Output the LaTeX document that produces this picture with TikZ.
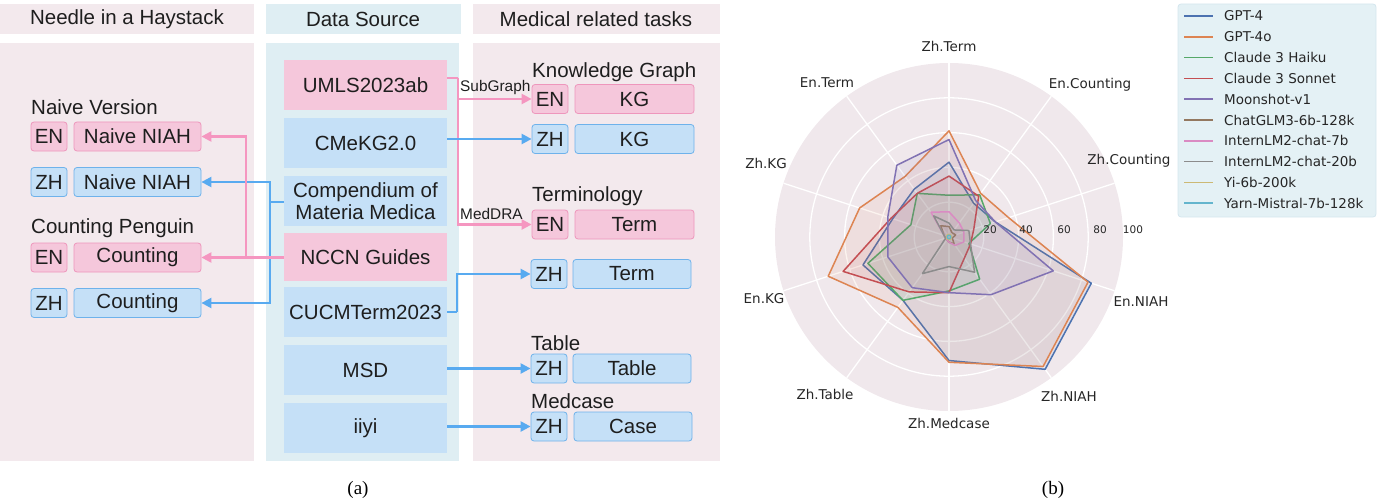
\documentclass[tikz,border=0pt]{standalone}
\usepackage{fontspec}
\setmainfont{Liberation Sans}
\newfontfamily\dvs{DejaVu Sans}
\newfontfamily\tnr{Liberation Serif}
\usetikzlibrary{arrows.meta}
\definecolor{panpink}{RGB}{243,233,237}
\definecolor{panblue}{RGB}{223,238,243}
\definecolor{boxpink}{RGB}{245,199,219}
\definecolor{boxblue}{RGB}{197,224,247}
\definecolor{brdpink}{RGB}{238,150,188}
\definecolor{brdblue}{RGB}{110,178,235}
\definecolor{arrpink}{RGB}{245,150,192}
\definecolor{arrblue}{RGB}{88,170,240}
\definecolor{txt}{RGB}{30,30,30}
\definecolor{radbg}{RGB}{240,232,236}
\definecolor{legfill}{RGB}{228,241,245}
\definecolor{legbrd}{RGB}{212,230,238}
\definecolor{sdblue}{HTML}{4C72B0}
\definecolor{sdorange}{HTML}{DD8452}
\definecolor{sdgreen}{HTML}{55A868}
\definecolor{sdred}{HTML}{C44E52}
\definecolor{sdpurple}{HTML}{8172B3}
\definecolor{sdbrown}{HTML}{937860}
\definecolor{sdpink}{HTML}{DA8BC3}
\definecolor{sdgray}{HTML}{8C8C8C}
\definecolor{sdolive}{HTML}{CCB974}
\definecolor{sdcyan}{HTML}{64B5CD}
\newcommand\radarpoly[3]{%
  \draw[line width=1.5pt, draw=#1, fill=#1, fill opacity=0.09, line join=round]
    (90:{#2*1.74}) \foreach \v [count=\i] in {#3} { -- ({90-36*\i}:{\v*1.74}) } -- cycle;}
\begin{document}
\begin{tikzpicture}[x=1pt,y=-1pt,
  big/.style={font=\fontsize{20.5}{24}\selectfont, text=txt, inner sep=0pt},
  hdr/.style={big},
  src/.style={big, minimum width=163pt, minimum height=50pt, align=center},
  srcp/.style={src, fill=boxpink},
  srcb/.style={src, fill=boxblue},
  tagp/.style={big, rounded corners=3pt, draw=brdpink, fill=boxpink, line width=0.8pt, minimum height=29pt},
  tagb/.style={big, rounded corners=3pt, draw=brdblue, fill=boxblue, line width=0.8pt, minimum height=29pt},
  lbl/.style={big, anchor=west},
  smalltxt/.style={font=\fontsize{15.4}{18}\selectfont, text=txt, inner sep=0pt},
  pline/.style={draw=arrpink, line width=2.3pt},
  bline/.style={draw=arrblue, line width=2.3pt},
  parr/.style={pline, -{Triangle[length=10pt,width=10pt]}},
  barr/.style={bline, -{Triangle[length=10pt,width=10pt]}},
  axl/.style={font=\dvs\fontsize{13.5}{16}\selectfont, text=black!85, inner sep=0pt},
  ticklbl/.style={font=\dvs\fontsize{10.5}{12}\selectfont, text=black!85, inner sep=0pt},
  legtxt/.style={font=\dvs\fontsize{13.5}{16}\selectfont, text=black!85, inner sep=0pt, anchor=west},
  captxt/.style={font=\tnr\fontsize{19}{22}\selectfont, text=black, inner sep=0pt}
]
\useasboundingbox (0,0) rectangle (1380,500);
% ---------- panels ----------
\fill[panpink] (0,4) rectangle (254,34);
\fill[panblue] (266,4) rectangle (461,34);
\fill[panpink] (473,4) rectangle (720,34);
\fill[panpink] (0,43) rectangle (254,461);
\fill[panblue] (266,43) rectangle (459,461);
\fill[panpink] (473,43) rectangle (720,461);
\node[hdr] (h1) at (127,19) {Needle in a Haystack};
\node[hdr] (h2) at (363,19) {Data Source};
\node[hdr] (h3) at (596,19) {Medical related tasks};
% ---------- sources ----------
\node[srcp] (umls) at (365.5,85) {UMLS2023ab};
\node[srcb] (cmekg) at (365.5,143) {CMeKG2.0};
\node[srcb] (comp) at (365.5,201) {Compendium of\\[-2pt]Materia Medica};
\node[srcp, minimum height=48pt] (nccn) at (365.5,257) {NCCN Guides};
\node[srcb] (cucm) at (365.5,312) {CUCMTerm2023};
\node[srcb] (msd) at (365.5,370) {MSD};
\node[srcb] (iiyi) at (365.5,428) {iiyi};
% ---------- left tasks ----------
\node[lbl] (lnv) at (31,107) {Naive Version};
\node[tagp, minimum width=36pt] (en1) at (49,136.5) {EN};
\node[tagp, minimum width=127pt] (naive1) at (137.5,136.5) {Naive NIAH};
\node[tagb, minimum width=36pt] (zh1) at (49,182) {ZH};
\node[tagb, minimum width=127pt] (naive2) at (137.5,182) {Naive NIAH};
\node[lbl] (lcp) at (31,228) {Counting Penguin};
\node[tagp, minimum width=36pt] (en2) at (49,257.5) {EN};
\node[tagp, minimum width=127pt] (cnt1) at (137.5,257.5) {Counting};
\node[tagb, minimum width=36pt] (zh2) at (49,303) {ZH};
\node[tagb, minimum width=127pt] (cnt2) at (137.5,303) {Counting};
% ---------- right tasks ----------
\node[lbl] (lkg) at (532,72) {Knowledge Graph};
\node[tagp, minimum width=36pt] (enkg) at (550,99) {EN};
\node[tagp, minimum width=119pt] (kg1) at (634.5,99) {KG};
\node[tagb, minimum width=36pt] (zhkg) at (550,139) {ZH};
\node[tagb, minimum width=119pt] (kg2) at (634.5,139) {KG};
\node[lbl] (lterm) at (532,196) {Terminology};
\node[tagp, minimum width=36pt] (enterm) at (550,224.5) {EN};
\node[tagp, minimum width=119pt] (term1) at (634.5,224.5) {Term};
\node[tagb, minimum width=36pt] (zhterm) at (549,274) {ZH};
\node[tagb, minimum width=118pt] (term2) at (632,274) {Term};
\node[lbl] (ltab) at (531,343) {Table};
\node[tagb, minimum width=36pt] (zhtab) at (549,368.5) {ZH};
\node[tagb, minimum width=118pt] (tab) at (632,368.5) {Table};
\node[lbl] (lcase) at (531,401) {Medcase};
\node[tagb, minimum width=36pt] (zhcase) at (549,426.5) {ZH};
\node[tagb, minimum width=118pt] (case) at (633,426.5) {Case};
% ---------- right connectors ----------
\coordinate (pj) at (458,78);
\draw[pline] ([yshift=7pt]umls.east) -- (pj);
\draw[parr] (pj) |- (enkg.west);
\draw[parr] (pj) |- (enterm.west);
\node[smalltxt, anchor=west] (sg) at (460,88) {SubGraph};
\node[smalltxt, anchor=west] (md) at (460,214) {MedDRA};
\draw[barr] (cmekg.east |- zhkg) -- (zhkg.west);
\coordinate (cj) at (457,312);
\draw[bline] (cucm.east) -- (cj);
\draw[barr] (cj) |- (zhterm.west);
\draw[barr] (msd.east |- zhtab) -- (zhtab.west);
\draw[barr] (iiyi.east |- zhcase) -- (zhcase.west);
% ---------- left connectors ----------
\coordinate (bl) at (270,202);
\draw[bline] (comp.west |- bl) -- (bl);
\draw[barr] (bl) |- (naive2.east);
\draw[barr] (bl) |- (cnt2.east);
\coordinate (pl) at (246,257.5);
\draw[parr] (nccn.west |- cnt1) -- (cnt1.east);
\draw[parr] (pl) |- (naive1.east);
% ---------- radar ----------
\begin{scope}[shift={(949,237)}, y=1pt]
  \fill[radbg] (0,0) circle (174pt);
  \foreach \r in {34.8,69.6,104.4,139.2} \draw[white, line width=1.3pt] (0,0) circle (\r pt);
  \foreach \a in {18,54,...,342} \draw[white, line width=1.3pt] (0,0) -- (\a:174);
  \radarpoly{sdblue}{43}{24,28,86,94,71,45,52,34,34}
  \radarpoly{sdorange}{61}{31,36,84,92,72,50,73,54,43}
  \radarpoly{sdgreen}{24}{30,25,12,30,31,45,49,23,31}
  \radarpoly{sdred}{35}{29,15,13,15,32,39,64,35,31}
  \radarpoly{sdpurple}{56}{26,28,63,41,32,36,37,37,51}
  \radarpoly{sdbrown}{6}{3,4,2,5,3,2,2,3,8}
  \radarpoly{sdpink}{14.5}{10,9,9,6,3,2,2,3,17.6}
  \radarpoly{sdgray}{8}{5,12,13,25,17,26,2,3,15}
  \radarpoly{sdolive}{1.5}{1.5,1.5,1.5,1.5,1.5,1.5,1.5,1.5,1.5}
  \radarpoly{sdcyan}{1}{1,1,1,1,1,1,1,1,1}
\end{scope}
\node[ticklbl] (t20) at (990,230) {20};
\node[ticklbl] (t40) at (1026,230) {40};
\node[ticklbl] (t60) at (1064,230) {60};
\node[ticklbl] (t80) at (1100,230) {80};
\node[ticklbl] (t100) at (1133,230) {100};
\node[axl] (a1) at (949,46) {Zh.Term};
\node[axl] (a2) at (1090,85) {En.Counting};
\node[axl] (a3) at (1129,161) {Zh.Counting};
\node[axl] (a4) at (1141,302) {En.NIAH};
\node[axl] (a5) at (1069,396) {Zh.NIAH};
\node[axl] (a6) at (949,423) {Zh.Medcase};
\node[axl] (a7) at (825,394) {Zh.Table};
\node[axl] (a8) at (764,299) {En.KG};
\node[axl] (a9) at (766,163) {Zh.KG};
\node[axl] (a10) at (827,83) {En.Term};
% ---------- legend ----------
\draw[fill=legfill, draw=legbrd, line width=0.8pt, rounded corners=3pt] (1178,4) rectangle (1376,217);
\foreach \c/\n [count=\k from 0] in {sdblue/GPT-4, sdorange/GPT-4o, sdgreen/Claude 3 Haiku, sdred/Claude 3 Sonnet, sdpurple/Moonshot-v1, sdbrown/ChatGLM3-6b-128k, sdpink/InternLM2-chat-7b, sdgray/InternLM2-chat-20b, sdolive/Yi-6b-200k, sdcyan/Yarn-Mistral-7b-128k}{
  \draw[\c, line width=1.6pt] (1184,{16+20.8*\k}) -- (1213,{16+20.8*\k});
  \node[legtxt] (lg\k) at (1224,{16+20.8*\k}) {\n};
}
% ---------- captions ----------
\node[captxt] (ca) at (358,490) {(a)};
\node[captxt] (cb) at (1053,490) {(b)};
\end{tikzpicture}
\end{document}
